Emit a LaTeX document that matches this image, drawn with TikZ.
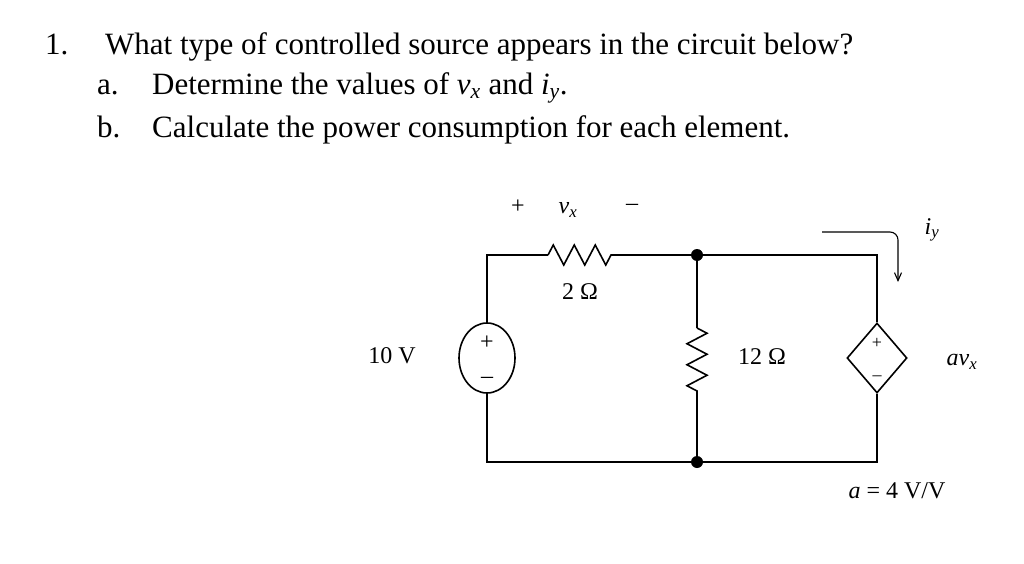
\documentclass[tikz,border=0pt]{standalone}
\usepackage{fontspec}
\setmainfont{Liberation Serif}
\usetikzlibrary{decorations.pathmorphing,shapes.geometric,arrows.meta}
\newcommand{\iv}[2]{\textit{#1}\textsubscript{\textit{#2}}}
\begin{document}
\begin{tikzpicture}[x=1pt,y=-1pt,
  w/.style={line width=1.6pt},
  res/.style={w,decorate,decoration={zigzag,segment length=21pt,amplitude=10pt}},
  q/.style={anchor=base west,font=\fontsize{31}{34}\selectfont,inner sep=0},
  lb/.style={font=\fontsize{24}{27}\selectfont,inner sep=0},
  dot/.style={circle,fill=black,inner sep=0,minimum size=12pt}]
\useasboundingbox (0,0) rectangle (1024,564);
\node[q] (n1) at (45,55) {1.};
\node[q] (t1) at (105,55) {What type of controlled source appears in the circuit below?};
\node[q] (na) at (97,95) {a.};
\node[q] (ta) at (152,95) {Determine the values of \iv{v}{x} and \iv{i}{y}.};
\node[q] (nb) at (97,138) {b.};
\node[q] (tb) at (152,138) {Calculate the power consumption for each element.};
% nodes
\coordinate (tl) at (487,255);
\coordinate (bl) at (487,462);
\node[dot] (tm) at (697,255) {};
\node[dot] (bm) at (697,462) {};
\coordinate (tr) at (877,255);
\coordinate (br) at (877,462);
\node[ellipse,draw,w,minimum width=56pt,minimum height=70pt,inner sep=0] (src) at (487,358) {};
\node[diamond,draw,w,minimum width=60pt,minimum height=70pt,inner sep=0,aspect=0.85] (dep) at (877,358) {};
\coordinate (r1a) at (548,255); \coordinate (r1b) at (612,255);
\coordinate (r2a) at (697,328); \coordinate (r2b) at (697,394);
\draw[w] (src.north) -- (tl) -- (r1a);
\draw[res] (r1a) -- (r1b);
\draw[w] (r1b) -- (tm) -- (tr) -- (dep.north);
\draw[w] (src.south) -- (bl) -- (bm) -- (br) -- (dep.south);
\draw[w] (tm) -- (r2a);
\draw[res] (r2a) -- (r2b);
\draw[w] (r2b) -- (bm);
\node[lb] at (487,343) {+};
\node[lb] at (487,380) {–};
\node[lb,font=\fontsize{18}{20}\selectfont] at (877,343) {+};
\node[lb,font=\fontsize{18}{20}\selectfont] at (877,378) {–};
% current arrow
\coordinate (a0) at (822,232);
\coordinate (a1) at (898,282);
\draw[line width=1.1pt,-{Straight Barb[length=8pt,width=7pt]}] (a0) -- (890,232) to[out=0,in=90] (898,240) -- (a1);
% labels
\node[lb] at (518,207) {+};
\node[lb] at (568,210) {\iv{v}{x}};
\node[lb] at (632,207) {–};
\node[lb] at (932,230) {\iv{i}{y}};
\node[lb] at (580,292) {2 Ω};
\node[lb] at (392,356) {10 V};
\node[lb] at (762,357) {12 Ω};
\node[lb] at (962,362) {\textit{a}\iv{v}{x}};
\node[lb] at (897,491) {\textit{a} = 4 V/V};
\end{tikzpicture}
\end{document}
